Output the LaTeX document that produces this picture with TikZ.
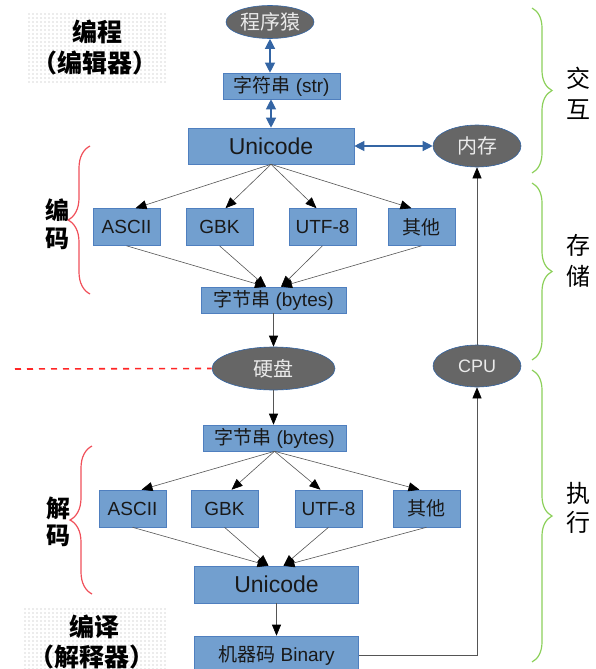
\documentclass[tikz,border=0pt]{standalone}
\usepackage{fontspec}
\setmainfont{Liberation Sans}
\newfontfamily\cjk{Noto Sans CJK SC}
\usetikzlibrary{arrows.meta,decorations.pathreplacing,calc,shapes.geometric}
\definecolor{boxblue}{HTML}{729FCF}
\definecolor{boxedge}{HTML}{4F7FBF}
\definecolor{ellfill}{HTML}{666666}
\definecolor{arrblue}{HTML}{3465A4}
\definecolor{brgreen}{HTML}{8CD05A}
\definecolor{brred}{HTML}{F0505A}
\definecolor{lineg}{HTML}{555555}
\begin{document}
\begin{tikzpicture}[x=1pt,y=-1pt,
  box/.style={rectangle,fill=boxblue,draw=boxedge,line width=0.6pt,inner sep=0pt,
    minimum height=37pt,font=\fontsize{19}{21}\selectfont,text=black!90},
  sbox/.style={box,minimum height=26pt},
  ubox/.style={box,minimum height=36pt,font=\fontsize{23}{25}\selectfont},
  ell/.style={ellipse,fill=ellfill,draw=arrblue,line width=0.6pt,inner sep=0pt,
    text=white!92!black,font=\fontsize{20}{22}\selectfont\cjk},
  conn/.style={draw=lineg,line width=0.6pt,-{Triangle[length=11pt,width=9pt,color=black]}},
  barrow/.style={draw=arrblue,line width=1.2pt,
    {Triangle[length=10pt,width=10pt]}-{Triangle[length=10pt,width=10pt]}},
  gbrace/.style={draw=brgreen,line width=1.2pt,decorate,decoration={brace,amplitude=20pt}},
  rbrace/.style={draw=brred,line width=1.2pt,decorate,decoration={brace,amplitude=22pt}},
  rlabel/.style={font=\fontsize{24}{26}\selectfont\cjk,text=black},
  llabel/.style={font=\fontsize{24}{26}\selectfont\cjk\bfseries,text=black},
  tlabel/.style={font=\fontsize{25}{27}\selectfont\cjk\bfseries,text=black}
]
\useasboundingbox (0,0) rectangle (596,669);
\clip (0,0) rectangle (596,669);

% dotted label backgrounds
\foreach \x in {29,33,...,165} \foreach \y in {14,18,...,82} \fill[gray!65] (\x,\y) circle (0.55pt);
\foreach \x in {25,29,...,167} \foreach \y in {609,613,...,669} \fill[gray!65] (\x,\y) circle (0.55pt);
\node[tlabel] (t1) at (97,32) {编程};
\node[tlabel] (t2) at (95,63) {（编辑器）};
\node[tlabel] (t3) at (94,627) {编译};
\node[tlabel] (t4) at (92,657) {（解释器）};

% top part
\node[ell,minimum width=88pt,minimum height=33pt] (prog) at (270,22) {程序猿};
\node[sbox,minimum width=117pt] (str) at (281.5,86) {{\cjk 字符串} (str)};
\node[ubox,minimum width=166pt] (uni) at (271,146) {Unicode};
\node[ell,minimum width=88pt,minimum height=42pt] (mem) at (477,146) {内存};

\node[box,minimum width=67pt] (a1) at (126.5,227) {ASCII};
\node[box,minimum width=67pt] (g1) at (219.5,227) {GBK};
\node[box,minimum width=67pt] (u1) at (322.5,227) {UTF-8};
\node[box,minimum width=67pt] (o1) at (421.5,227) {\cjk 其他};

\node[sbox,minimum width=145pt] (b1) at (273.5,300) {{\cjk 字节串} (bytes)};
\node[ell,minimum width=123pt,minimum height=43pt] (disk) at (273.5,368.5) {硬盘};
\node[ell,minimum width=88pt,minimum height=42pt] (cpu) at (477,366) {\fontspec{Liberation Sans}\fontsize{18}{20}\selectfont CPU};
\node[sbox,minimum width=143pt] (b2) at (274.5,438) {{\cjk 字节串} (bytes)};

\node[box,minimum width=67pt] (a2) at (132.5,508.5) {ASCII};
\node[box,minimum width=67pt] (g2) at (224.5,508.5) {GBK};
\node[box,minimum width=67pt] (u2) at (328.5,508.5) {UTF-8};
\node[box,minimum width=67pt] (o2) at (426.5,508.5) {\cjk 其他};

\node[ubox,minimum width=164pt,minimum height=37pt] (uni2) at (276.5,584.5) {Unicode};
\node[box,minimum width=164pt,minimum height=38pt] (bin) at (276.5,655) {{\cjk 机器码} Binary};

% blue double arrows
\draw[barrow] (prog.south) -- (prog.south |- str.north);
\draw[barrow] (uni.north |- str.south) -- (uni.north);
\draw[barrow] (uni.east) -- (mem.west);

% encode fan
\draw[conn] (uni.south) -- ($(a1.north)+(9,0)$);
\draw[conn] (uni.south) -- ($(g1.north)+(6,0)$);
\draw[conn] (uni.south) -- ($(u1.north)+(-6,0)$);
\draw[conn] (uni.south) -- ($(o1.north)+(-10,0)$);
\draw[conn] (a1.south) -- ($(b1.north)+(-7.5,0)$);
\draw[conn] (g1.south) -- ($(b1.north)+(-7.5,0)$);
\draw[conn] (u1.south) -- ($(b1.north)+(7.5,0)$);
\draw[conn] (o1.south) -- ($(b1.north)+(7.5,0)$);

\draw[conn] (b1.south) -- (b1.south |- disk.north);
\draw[conn] (disk.south) -- (disk.south |- b2.north);

% decode fan
\draw[conn] (b2.south) -- ($(a2.north)+(9,0)$);
\draw[conn] (b2.south) -- ($(g2.north)+(7,0)$);
\draw[conn] (b2.south) -- ($(u2.north)+(-8,0)$);
\draw[conn] (b2.south) -- ($(o2.north)+(-7,0)$);
\draw[conn] (a2.south) -- ($(uni2.north)+(-8,0)$);
\draw[conn] (g2.south) -- ($(uni2.north)+(-8,0)$);
\draw[conn] (u2.south) -- ($(uni2.north)+(7,0)$);
\draw[conn] (o2.south) -- ($(uni2.north)+(7,0)$);

\draw[conn] (uni2.south) -- (bin.north);
\draw[conn] (bin.east) -| (cpu.south);
\draw[conn] (cpu.north) -- (mem.south);

% red dashed line
\coordinate (dl) at (15,369);
\draw[draw=red!85!white,line width=1.6pt,dash pattern=on 6pt off 6pt] (dl) -- (disk.west);

% braces right
\draw[gbrace] (532,8) -- (532,173);
\draw[gbrace] (532,183) -- (532,360);
\draw[gbrace] (532,370) -- (532,662);
\node[rlabel] (l1) at (578,78) {交};
\node[rlabel] (l2) at (578,110) {互};
\node[rlabel] (l3) at (578,245) {存};
\node[rlabel] (l4) at (578,276) {储};
\node[rlabel] (l5) at (578,493) {执};
\node[rlabel] (l6) at (578,522) {行};

% braces left
\draw[rbrace] (90,294) -- (90,146);
\draw[rbrace] (92,594) -- (92,446);
\node[llabel] (e1) at (57,210) {编};
\node[llabel] (e2) at (57,239) {码};
\node[llabel] (d1) at (58,508) {解};
\node[llabel] (d2) at (58,536) {码};
\end{tikzpicture}
\end{document}
